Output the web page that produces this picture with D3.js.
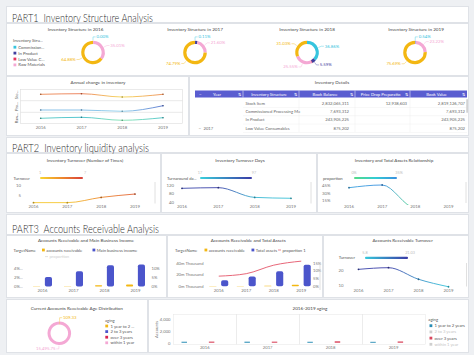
<!DOCTYPE html>
<html><head><meta charset="utf-8">
<script src="https://cdn.jsdelivr.net/npm/d3@7"></script>
<style>
html,body{margin:0;padding:0;background:#eef0f3;}
svg{display:block;font-family:Lato,"Open Sans",sans-serif;}
</style></head><body>
<script>
// ---------------- DATA ----------------
const years = ["2016","2017","2018","2019"];
const invStructCats = ["Commissioned Processing Materials","In Product","Low Value Consumables","Raw Materials","Stock Item"];
const invLegendLabels = ["Commission...","In Product","Low Value C...","Raw Materials"];
const invShare2016 = [0.00, 0.11, 0.00, 35.01, 64.88];
const invShare2017 = [0.11, 3.50, 0.00, 21.60, 74.79];
const invShare2018 = [36.86, 5.59, 0.97, 25.55, 31.03];
const invShare2019 = [0.54, 0.55, 0.00, 23.22, 75.69];

const annualSeries = ["Sto...","Pro...","Raw..."];
const annualStock = [27.3, 29.9, 15.7, 27.3];
const annualProduct = [10.0, 10.0, 4.4, 28.4];
const annualRaw = [24.4, 28.7, 15.9, 27.0];

const tableColumns = ["Year","Inventory Structure","Book Balance","Price Drop Preparatio","Book Value"];
const tableYear = "2017";
const tableItems = ["Stock Item","Commissioned Processing Ma","In Product","Low Value Consumables"];
const tableBookBalance = [2832065311, 7693312, 243905225, 875202];
const tablePriceDrop = [12938603, null, null, null];
const tableBookValue = [2819126707, 7693312, 243905225, 875202];

const turnoverTimes = [1.6, 1.6, 4.1, 5.7];
const turnoverLegend = ["1","7"];
const turnoverDays = [105, 108, 64, 60];
const turnoverDaysLegend = ["17","97"];
const invAssetProportion = [41, 46.4, 0.5, 0.3];
const invAssetLegend = ["0%","35%"];

const arReceivableA = [0.05, 0.06, 0.3, 0.45];
const mainIncome = [2.1, 3.4, 4.7, 4.9];
const leftTicksA = ["0%...","2%...","4%..."];
const arReceivableB = [0.4, 0.5, 0.8, 2.6];
const totalAssets = [10.4, 16.9, 25.6, 37.0];
const arProportion = [6.5, 8.1, 13.6, 16.2];
const leftTicksB = ["0m Thousand","20m Thousand","40m Thousand"];
const arTurnover = [20.9, 22.0, 14.3, 9.3];
const arTurnoverLegend = ["5.8","21.03"];

const agingCats = ["1 year to 2 years","2 to 3 years","over 3 years","within 1 year"];
const agingLegendShort = ["1 year to 2 ...","2 to 3 years","over 3 years","within 1 year"];
const agingCurrent = [109.33, 0, 45, 15495.75];
const aging1to2 = [230, 240, 220, 210];
const agingOver3 = [260, 250, 330, 290];

// ---------------- COLORS ----------------
const C = {cyan:"#36C4DE", indigo:"#3F3E9E", red:"#E5365C", pink:"#F4A8D4", gold:"#F3B712",
           blue:"#4B55CB", header:"#5A5DD0", text:"#555", axis:"#777", grid:"#e3e5e9"};
const invColors = [C.cyan, C.indigo, C.red, C.pink, C.gold];
const agingDonutColors = [C.gold, C.blue, "#D8234F", C.pink];
const agingFacetColors = ["#2A8DB5", "#cfcfcf", "#D9485F", "#cfcfcf"];
const agingVisible = [true, false, true, false];

// ---------------- SETUP ----------------
const W = 474, H = 355;
const svg = d3.select("body").append("svg").attr("width", W).attr("height", H);
const defs = svg.append("defs");
svg.append("rect").attr("width", W).attr("height", H).attr("fill", "#eef0f3");

function panel(x, y, w, h) {
  svg.append("rect").attr("x", x + 0.5).attr("y", y + 0.5).attr("width", w - 1).attr("height", h - 1)
    .attr("fill", "#fff").attr("stroke", "#dfe2e7").attr("stroke-width", 1);
}
function T(g, x, y, s, o = {}) {
  const t = g.append("text").attr("x", x).attr("y", y).text(s)
    .attr("font-size", o.size || 4.3).attr("fill", o.fill || C.text)
    .attr("text-anchor", o.anchor || "start").attr("dominant-baseline", "central");
  if (o.fit) t.attr("textLength", o.fit).attr("lengthAdjust", "spacingAndGlyphs");
  if (o.rot) t.attr("transform", `rotate(${o.rot},${x},${y})`);
  return t;
}
let gid = 0;
function linGrad(colors) {
  const id = "gr" + (gid++);
  const gr = defs.append("linearGradient").attr("id", id);
  colors.forEach((c, i) => gr.append("stop").attr("offset", colors.length > 1 ? i / (colors.length - 1) : 0).attr("stop-color", c));
  return id;
}
function gradientLine(g, xs, ys, colors, width) {
  const id = "gl" + (gid++);
  const x0 = xs[0], x1 = xs[xs.length - 1];
  const gr = defs.append("linearGradient").attr("id", id).attr("gradientUnits", "userSpaceOnUse")
    .attr("x1", x0).attr("x2", x1).attr("y1", 0).attr("y2", 0);
  xs.forEach((x, i) => gr.append("stop").attr("offset", (x - x0) / (x1 - x0)).attr("stop-color", colors[i]));
  g.append("path").attr("d", d3.line().curve(d3.curveMonotoneX)(xs.map((x, i) => [x, ys[i]])))
    .attr("fill", "none").attr("stroke", `url(#${id})`).attr("stroke-width", width || 0.9);
}
function clipRect(x, y, w, h) {
  const id = "cp" + (gid++);
  defs.append("clipPath").attr("id", id).append("rect").attr("x", x).attr("y", y).attr("width", w).attr("height", h);
  return `url(#${id})`;
}
function donut(cx, cy, rO, rI, values, colors, showLabel, fmt) {
  const arcs = d3.pie().sort(null).value(d => d)(values);
  const arc = d3.arc().innerRadius(rI).outerRadius(rO);
  const g = svg.append("g").attr("transform", `translate(${cx},${cy})`);
  g.selectAll("path").data(arcs).join("path").attr("d", arc).attr("fill", (d, i) => colors[i]);
  arcs.forEach((d, i) => {
    if (!showLabel(d.value, i)) return;
    const a = (d.startAngle + d.endAngle) / 2;
    const sx = Math.sin(a), sy = -Math.cos(a);
    const side = sx >= -0.001 ? 1 : -1;
    const p1 = [sx * (rO + 0.6), sy * (rO + 0.6)];
    const p2 = [sx * (rO + 3.8), sy * (rO + 3.8)];
    const p3 = [p2[0] + side * 2.6, p2[1]];
    g.append("polyline").attr("points", [p1, p2, p3].map(p => p.join(",")).join(" "))
      .attr("fill", "none").attr("stroke", colors[i]).attr("stroke-width", 0.4);
    T(g, p3[0] + side * 0.8, p3[1], fmt(d.value), {anchor: side > 0 ? "start" : "end", fill: colors[i], size: 4.3});
  });
}
function sectionTitle(y, s, w) {
  svg.append("text").attr("x", 12).attr("y", y).text(s).attr("font-size", 11).attr("font-weight", 300)
    .attr("fill", "#2d2d2d").style("white-space", "pre").attr("xml:space", "preserve")
    .attr("dominant-baseline", "central").attr("textLength", w).attr("lengthAdjust", "spacingAndGlyphs");
}
function chartTitle(cx, cy, s) { T(svg, cx, cy, s, {anchor: "middle", size: 4.6, fill: "#444"}); }

// ---------------- PANELS ----------------
panel(6, 6, 463, 17);
panel(6, 23, 463, 53);
panel(6, 76, 183, 60);
panel(189, 76, 280, 60);
panel(6, 137, 463, 16);
panel(6, 153, 155, 60);
panel(161, 153, 156, 60);
panel(317, 153, 152, 60);
panel(6, 214, 463, 21);
panel(6, 235, 161, 63);
panel(167, 235, 156, 63);
panel(323, 235, 146, 63);
panel(6, 299, 142, 54);
panel(148, 299, 321, 54);

sectionTitle(17, "PART1  Inventory Structure Analysis", 141);
sectionTitle(147, "PART2  Inventory liquidity analysis", 137);
sectionTitle(228.5, "PART3  Accounts Receivable Analysis", 147);

// ---------------- PART1 DONUTS ----------------
const donutShares = [invShare2016, invShare2017, invShare2018, invShare2019];
const donutCenters = [93, 195, 307, 415];
const donutTitleX = [75.5, 195, 307, 416];
years.forEach((y, k) => {
  chartTitle(donutTitleX[k], 29, "Inventory Structure in " + y);
  donut(donutCenters[k], 52.5, 11.8, 8.6, donutShares[k], invColors,
    (v, i) => i === 0 || v >= 5, v => v.toFixed(2) + "%");
});
T(svg, 13, 40.5, "Inventory Stru...", {size: 4.3, fill: "#555"});
invLegendLabels.forEach((l, i) => {
  const yy = 47.2 + i * 5.9;
  svg.append("rect").attr("x", 13.5).attr("y", yy - 1.4).attr("width", 2.8).attr("height", 2.8).attr("fill", invColors[i]);
  T(svg, 18.3, yy, l, {size: 4.3, fill: "#555"});
});

// ---------------- ANNUAL CHANGE ----------------
chartTitle(98, 82, "Annual change in inventory");
{
  const rows = [annualStock, annualProduct, annualRaw];
  const rowColors = [["#F5D43C", "#E8663A"], ["#79C8EA", "#3C5FC6"], ["#74E0A6", "#26B5C4"]];
  const band = d3.scaleBand().domain(annualSeries).range([89, 124]);
  const x = d3.scalePoint().domain(years).range([40.7, 163]);
  const yLocal = d3.scaleLinear().domain([0, 50]).range([band.bandwidth(), 0]);
  svg.append("rect").attr("x", 20.5).attr("y", 89.5).attr("width", 162).attr("height", 34).attr("fill", "none").attr("stroke", "#dcdcdc").attr("stroke-width", 0.6);
  annualSeries.forEach((s, r) => {
    const top = band(s);
    if (r > 0) svg.append("line").attr("x1", 20.5).attr("x2", 182.5).attr("y1", top).attr("y2", top).attr("stroke", "#dcdcdc").attr("stroke-width", 0.6);
    T(svg, 16.5, top + band.bandwidth() / 2, s, {size: 4, fill: "#666", anchor: "middle", rot: -90});
    const vals = rows[r];
    const ext = d3.extent(vals);
    const col = d3.scaleLinear().domain(ext).range(rowColors[r]);
    const xs = years.map(d => x(d)), ys = vals.map(v => top + yLocal(v));
    gradientLine(svg, xs, ys, vals.map(col), 0.8);
    xs.forEach((xx, i) => svg.append("circle").attr("cx", xx).attr("cy", ys[i]).attr("r", 0.8).attr("fill", d3.color(col(vals[i])).darker(1.2)));
  });
  years.forEach(y => T(svg, x(y), 127.8, y, {anchor: "middle", size: 4.3, fill: C.axis}));
}

// ---------------- TABLE ----------------
chartTitle(332, 82, "Inventory Details");
{
  const colEdges = [195, 243, 299, 355, 410, 467];
  const headerY = 90.5, headerH = 7;
  svg.append("rect").attr("x", colEdges[0]).attr("y", headerY).attr("width", colEdges[5] - colEdges[0]).attr("height", headerH).attr("fill", C.header);
  colEdges.slice(1, 5).forEach(x => svg.append("line").attr("x1", x).attr("x2", x).attr("y1", headerY).attr("y2", headerY + headerH).attr("stroke", "#fff").attr("stroke-width", 0.5));
  const hc = headerY + headerH / 2;
  T(svg, 199, hc, "−", {fill: "#fff", size: 4.5});
  tableColumns.forEach((c, i) => {
    const mid = (colEdges[i] + colEdges[i + 1]) / 2 - 2;
    T(svg, mid, hc, c, {fill: "#fff", anchor: "middle", size: 4.2});
    T(svg, colEdges[i + 1] - 3.5, hc, "⇅", {fill: "#fff", anchor: "middle", size: 4});
  });
  const fmt = d3.format(",");
  const rowY = d3.scalePoint().domain(tableItems).range([103.3, 128.3]);
  tableItems.forEach((item, i) => {
    const yy = rowY(item);
    svg.append("line").attr("x1", 243).attr("x2", 467).attr("y1", yy + 4.1).attr("y2", yy + 4.1).attr("stroke", "#eeeeee").attr("stroke-width", 0.5);
    T(svg, 245.5, yy, item, {size: 4.2, fill: "#666"});
    T(svg, 349, yy, fmt(tableBookBalance[i]), {anchor: "end", size: 4.2, fill: "#666"});
    if (tablePriceDrop[i] != null) T(svg, 407, yy, fmt(tablePriceDrop[i]), {anchor: "end", size: 4.2, fill: "#666"});
    T(svg, 465, yy, fmt(tableBookValue[i]), {anchor: "end", size: 4.2, fill: "#666"});
  });
  [299, 355, 410].forEach(x => svg.append("line").attr("x1", x).attr("x2", x).attr("y1", 98).attr("y2", 132).attr("stroke", "#ececec").attr("stroke-width", 0.5));
  T(svg, 198.5, rowY(tableItems[3]), "−", {size: 4.3, fill: "#666"});
  T(svg, 203.5, rowY(tableItems[3]), tableYear, {size: 4.2, fill: "#666"});
  svg.append("rect").attr("x", 466.3).attr("y", 99).attr("width", 1.6).attr("height", 14).attr("rx", 0.8).attr("fill", "#cfcfcf");
}

// ---------------- PART2 LINE CHARTS ----------------
function valueLine(cfg) {
  const {xRange, y, vals, colorRange, colorDomain, clip, ticks, tickFmt, tickX, legendLabel, legendX, barX, legendTicks, titleX, title, legendY, scrollX} = cfg;
  chartTitle(titleX, cfg.titleY, title);
  T(svg, legendX, legendY, legendLabel, {size: 4.2, fill: "#555"});
  const gidL = linGrad(colorRange);
  svg.append("rect").attr("x", barX[0]).attr("y", legendY - 1.1).attr("width", barX[1] - barX[0]).attr("height", 2.2).attr("rx", 1).attr("fill", `url(#${gidL})`);
  T(svg, barX[0], legendY - 5.6, legendTicks[0], {size: 3.8, fill: "#bbb", anchor: "middle"});
  T(svg, barX[1] + 2, legendY - 5.6, legendTicks[1], {size: 3.8, fill: "#bbb", anchor: "middle"});
  const x = d3.scalePoint().domain(years).range(xRange);
  ticks.forEach(t => T(svg, tickX, y(t), tickFmt(t), {anchor: "end", size: 4.3, fill: C.axis}));
  years.forEach(yr => T(svg, x(yr), cfg.xLabelY, yr, {anchor: "middle", size: 4.3, fill: C.axis}));
  const col = d3.scaleLinear().domain(colorDomain).range(colorRange);
  const g = svg.append("g").attr("clip-path", clipRect(...clip));
  const xs = years.map(d => x(d)), ys = vals.map(v => y(v));
  gradientLine(g, xs, ys, vals.map(col), 0.9);
  xs.forEach((xx, i) => g.append("circle").attr("cx", xx).attr("cy", ys[i]).attr("r", 0.9).attr("fill", d3.color(col(vals[i])).darker(1)));
  if (scrollX) svg.append("line").attr("x1", scrollX).attr("x2", scrollX).attr("y1", cfg.clip[1] + 1).attr("y2", cfg.clip[1] + cfg.clip[3] - 2).attr("stroke", "#d8d8d8").attr("stroke-width", 0.8);
}

valueLine({
  title: "Inventory Turnover (Number of Times)", titleX: 85, titleY: 160,
  legendLabel: "Turnover", legendX: 13.5, legendY: 178, barX: [40, 83], legendTicks: turnoverLegend,
  xRange: [33.5, 135], y: d3.scaleLinear().domain([0, 10]).range([206, 185]), vals: turnoverTimes,
  colorDomain: [1, 4, 7], colorRange: ["#F7D52F", "#EE8A2D", "#D8403B"],
  clip: [22, 181, 133, 24.5], ticks: [5, 10], tickFmt: d => d, tickX: 21, xLabelY: 206.5, scrollX: 155
});
valueLine({
  title: "Inventory Turnover Days", titleX: 240, titleY: 160,
  legendLabel: "Turnaround da...", legendX: 167, legendY: 178, barX: [200, 252], legendTicks: turnoverDaysLegend,
  xRange: [182, 291], y: d3.scaleLinear().domain([40, 120]).range([202.7, 185]), vals: turnoverDays,
  colorDomain: [55, 110], colorRange: ["#3AD0DC", "#3A3AA6"],
  clip: [176, 181, 135, 24.5], ticks: [40, 80, 120], tickFmt: d => d, tickX: 174, xLabelY: 206.5, scrollX: 311
});
valueLine({
  title: "Inventory and Total Assets Relationship", titleX: 394, titleY: 160,
  legendLabel: "proportion", legendX: 323, legendY: 178, barX: [354, 397], legendTicks: invAssetLegend,
  xRange: [349, 448.5], y: d3.scaleLinear().domain([15, 45]).range([200.7, 185.7]), vals: invAssetProportion,
  colorDomain: [0, 25, 47], colorRange: ["#55DB86", "#33CCD4", "#3A8FE0"],
  clip: [333, 181, 132, 24], ticks: [15, 30, 45], tickFmt: d => d + "%", tickX: 330.5, xLabelY: 206.5, scrollX: 466
});

// ---------------- PART3 COMBO CHARTS ----------------
function legendRow(items, y) {
  items.forEach(it => {
    if (it.type === "text") T(svg, it.x, y, it.label, {size: 4.2, fill: it.fill || "#555"});
    else if (it.type === "sq") {
      svg.append("rect").attr("x", it.x).attr("y", y - 1.4).attr("width", 2.8).attr("height", 2.8).attr("fill", it.color);
      T(svg, it.x + 4.3, y, it.label, {size: 4.2, fill: it.fill || "#555"});
    } else if (it.type === "ln") {
      svg.append("line").attr("x1", it.x).attr("x2", it.x + 3).attr("y1", y).attr("y2", y).attr("stroke", it.color).attr("stroke-width", 0.7);
      T(svg, it.x + 4.5, y, it.label, {size: 4.2, fill: it.fill || "#555"});
    }
  });
}
function comboBars(cfg) {
  const x0 = d3.scaleBand().domain(years).range(cfg.xRange);
  const x1 = d3.scaleBand().domain(["ar", "main"]).range([-9.5, 9.5]).paddingInner(0.4);
  const yL = cfg.yL;
  years.forEach((yr, i) => {
    const cx = x0(yr) + x0.bandwidth() / 2;
    [["ar", cfg.ar[i], C.gold], ["main", cfg.main[i], C.blue]].forEach(([k, v, c]) => {
      const top = yL(v), h = yL(0) - top;
      svg.append("rect").attr("x", cx + x1(k)).attr("y", top).attr("width", x1.bandwidth()).attr("height", Math.max(h, 0.3))
        .attr("rx", Math.min(1.8, h / 2)).attr("fill", c);
    });
    T(svg, cx, 290.8, yr, {anchor: "middle", size: 4.3, fill: C.axis});
  });
  return x0;
}
chartTitle(86, 240.3, "Accounts Receivable and Main Business Income");
legendRow([{type: "text", x: 13.5, label: "TargetName"}, {type: "sq", x: 42, color: C.gold, label: "accounts receivable"},
  {type: "sq", x: 92.5, color: C.blue, label: "Main business income"}], 250);
legendRow([{type: "ln", x: 45, color: "#d6d6d6", label: "proportion", fill: "#cfcfcf"}], 256.6);
{
  const yL = d3.scaleLinear().domain([0, 5]).range([286.5, 264]);
  const yR = d3.scaleLinear().domain([0, 12.5]).range([286.5, 264]);
  [0, 2, 4].forEach((t, i) => T(svg, 14, yL(t), leftTicksA[i], {size: 4.2, fill: C.axis}));
  [0, 5, 10].forEach(t => T(svg, 151.5, yR(t), t + "%", {size: 4.2, fill: C.axis}));
  comboBars({xRange: [27, 151], yL, ar: arReceivableA, main: mainIncome});
}
chartTitle(248.3, 240.3, "Accounts Receivable and Total Assets");
legendRow([{type: "text", x: 175, label: "TargetName"}, {type: "sq", x: 204.5, color: C.gold, label: "accounts receivable"},
  {type: "sq", x: 251.5, color: C.blue, label: "Total assets"}, {type: "ln", x: 278, color: "#E4566A", label: "proportion 1"}], 250);
{
  const yL = d3.scaleLinear().domain([0, 40]).range([286.2, 263]);
  const yR = d3.scaleLinear().domain([0, 15]).range([286.2, 263]);
  [0, 20, 40].forEach((t, i) => T(svg, 203.5, yL(t), leftTicksB[i], {anchor: "end", size: 4.2, fill: C.axis}));
  [0, 5, 10, 15].forEach(t => T(svg, 313, yR(t), t + "%", {size: 4.2, fill: C.axis}));
  const x0 = comboBars({xRange: [205, 315], yL, ar: arReceivableB, main: totalAssets});
  const pts = years.map((yr, i) => [x0(yr) + x0.bandwidth() / 2, yR(arProportion[i])]);
  svg.append("path").attr("d", d3.line().curve(d3.curveMonotoneX)(pts)).attr("fill", "none").attr("stroke", "#E4566A").attr("stroke-width", 0.9);
  svg.append("line").attr("x1", 320).attr("x2", 320).attr("y1", 262).attr("y2", 290).attr("stroke", "#d8d8d8").attr("stroke-width", 0.8);
}
valueLine({
  title: "Accounts Receivable Turnover", titleX: 402.7, titleY: 240.3,
  legendLabel: "Turnover", legendX: 338.7, legendY: 257.8, barX: [365, 408], legendTicks: arTurnoverLegend,
  xRange: [358.5, 448.5], y: d3.scaleLinear().domain([10, 20]).range([285.7, 270.7]), vals: arTurnover,
  colorDomain: [9, 22], colorRange: ["#36C9DC", "#3A3AA6"],
  clip: [346, 262, 118, 26.5], ticks: [10, 20], tickFmt: d => d, tickX: 343.5, xLabelY: 290.8, scrollX: 466.5
});

// ---------------- BOTTOM: AGING DONUT ----------------
chartTitle(76.7, 308.3, "Current Accounts Receivable Age Distribution");
donut(59.3, 333.3, 11.8, 8.8, agingCurrent, agingDonutColors, v => v > 100, d3.format(",.2f"));
T(svg, 105, 320, "aging", {size: 4.2, fill: "#555"});
agingLegendShort.forEach((l, i) => {
  const yy = 326 + i * 5.6;
  svg.append("rect").attr("x", 105.3).attr("y", yy - 1.4).attr("width", 2.8).attr("height", 2.8).attr("fill", agingDonutColors[i]);
  T(svg, 110.5, yy, l, {size: 4.2, fill: "#555"});
});

// ---------------- BOTTOM: AGING FACETS ----------------
chartTitle(310, 308.3, "2016-2019 aging");
{
  const fx = d3.scaleBand().domain(years).range([173.3, 425]);
  const xin = d3.scaleBand().domain(agingCats).range([0, fx.bandwidth()]).padding(0.6);
  const y = d3.scaleLinear().domain([0, 4000]).range([343, 319.5]);
  T(svg, 156.5, 329.5, "Accounts", {anchor: "middle", size: 4.2, fill: "#666", rot: -90});
  [0, 2000, 4000].forEach(t => T(svg, 170.5, y(t), d3.format(",")(t), {anchor: "end", size: 4.2, fill: C.axis}));
  const series = [aging1to2, null, agingOver3, null];
  years.forEach((yr, k) => {
    svg.append("rect").attr("x", fx(yr) + 0.25).attr("y", 314.5).attr("width", fx.bandwidth()).attr("height", 30)
      .attr("fill", "none").attr("stroke", "#e6e6e6").attr("stroke-width", 0.5);
    agingCats.forEach((c, j) => {
      if (!agingVisible[j]) return;
      const v = series[j][k];
      svg.append("rect").attr("x", fx(yr) + xin(c)).attr("y", y(v)).attr("width", xin.bandwidth()).attr("height", y(0) - y(v))
        .attr("fill", agingFacetColors[j]).attr("opacity", 0.75);
    });
    T(svg, fx(yr) + fx.bandwidth() / 2, 347.5, yr, {anchor: "middle", size: 4.2, fill: C.axis});
  });
  T(svg, 428.3, 319, "aging", {size: 4.2, fill: "#555"});
  agingCats.forEach((c, i) => {
    const yy = 325.7 + i * 6.2;
    svg.append("rect").attr("x", 429.5).attr("y", yy - 1.4).attr("width", 2.8).attr("height", 2.8).attr("fill", agingFacetColors[i]);
    T(svg, 434.5, yy, c, {size: 4.2, fill: agingVisible[i] ? "#555" : "#c4c4c4"});
  });
}
</script>
</body></html>
